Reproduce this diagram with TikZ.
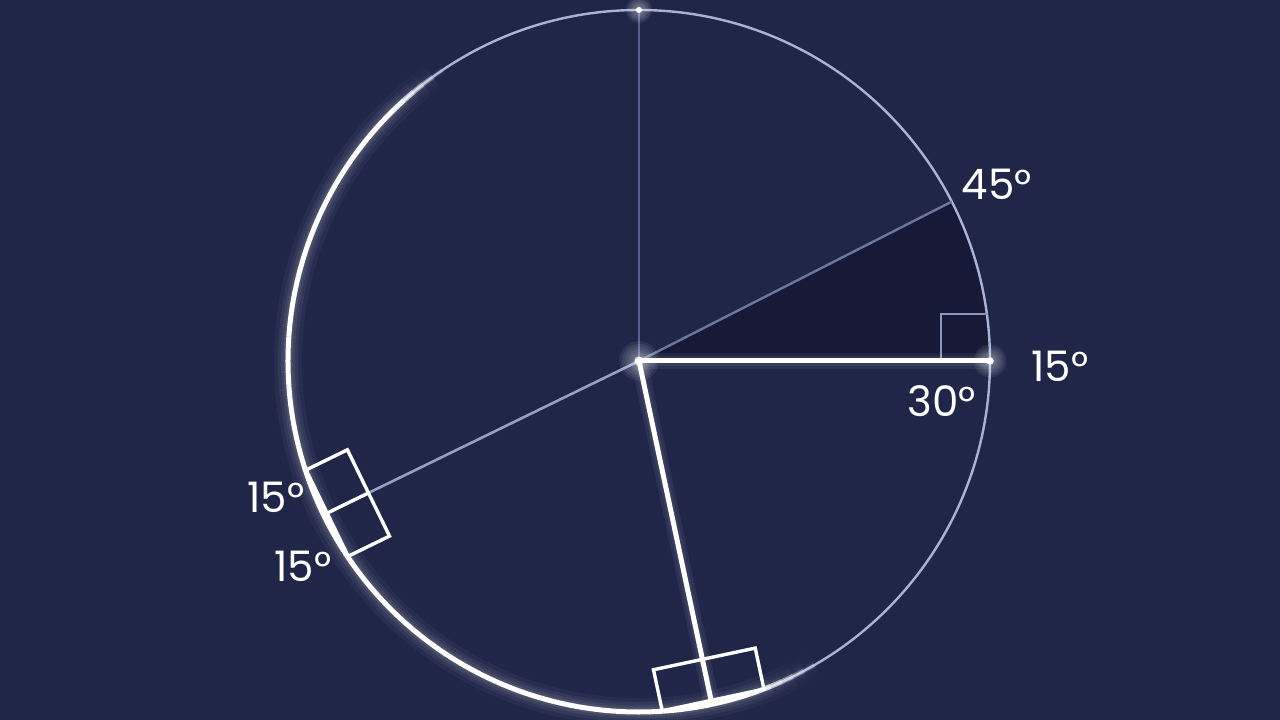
\documentclass[tikz,border=0pt]{standalone}
\usepackage{fontspec}
\setmainfont{Poppins}
\definecolor{bg}{HTML}{1F2648}
\definecolor{sector}{HTML}{161A37}
\definecolor{rim}{HTML}{A9B3D6}
\definecolor{vline}{HTML}{56628C}
\definecolor{aline}{HTML}{6B77A1}
\definecolor{lline}{HTML}{96A0C6}
\definecolor{rsq}{HTML}{8C97BD}
\tikzset{
  thinrim/.style={draw=rim, line width=2.4pt},
  brightline/.style={draw=white, line width=5pt},
  glowline/.style={draw=white, line width=#1, opacity=0.06},
  marksq/.style={draw=white, line width=3.4pt, line join=miter},
  deglabel/.style={text=white, font=\fontsize{42}{42}\selectfont, inner sep=0pt, anchor=center},
}
\begin{document}
\begin{tikzpicture}[x=1pt,y=1pt]
\useasboundingbox (-639,-359) rectangle (641,361);
\fill[bg] (-639,-359) rectangle (641,361);
\def\R{351}
\def\Rs{347}
\coordinate (C) at (0,0);
\coordinate (T) at (90:\R);
\coordinate (A) at (27:\R);
\coordinate (E) at (0:\R);
\coordinate (L) at (206:\R);
\coordinate (Ls) at (206:\Rs);
\coordinate (B) at (-78:\Rs);
% dark sector
\fill[sector] (C) -- (E) arc[start angle=0, end angle=27, radius=\R] -- cycle;
% thin circle
\draw[thinrim] (C) circle[radius=\R];
% bright arc with glow, faded ends
\foreach \a in {122,124,...,300}{
  \pgfmathsetmacro{\f}{min(1,max(0,min((\a+1-124)/10,(301-\a-1)/13)))}
  \pgfmathsetmacro{\b}{\a+2}
  \foreach \w/\o in {28pt/0.04,20pt/0.05,14pt/0.06,9pt/0.08}{
    \draw[draw=white, line width=\w, opacity=\o*\f] (\a:\R) arc[start angle=\a, end angle=\b, radius=\R];
  }
  \draw[draw=white, line width=5pt, opacity=\f] (\a:\R) arc[start angle=\a, end angle=\b, radius=\R];
}
% thin radii
\draw[vline, line width=2pt] (C) -- (T);
\draw[aline, line width=2.4pt] (C) -- (A);
\draw[lline, line width=2.6pt] (C) -- (Ls);
% right angle square at E (thin)
\draw[rsq, line width=2pt] ([xshift=-2pt]E) ++(0,47) -- ++(-47,0) -- ++(0,-47);
% glow for thick radii
\foreach \w in {16pt,10pt}{
  \draw[glowline=\w] (C) -- (E);
  \draw[glowline=\w] (C) -- (B);
}
\draw[brightline] (C) -- (E);
\draw[brightline] (C) -- (B);
% squares at lower left
\begin{scope}[rotate=206]
  \draw[marksq] (\Rs,0) -- (\Rs-46,0);
  \draw[marksq] (\Rs,0) -- (\Rs,48) -- (\Rs-46,48) -- (\Rs-46,0) -- (\Rs-46,-48) -- (\Rs,-48) -- cycle;
\end{scope}
% squares at bottom
\begin{scope}[rotate=-78]
  \draw[marksq] (\Rs,0) -- (\Rs,54) -- (\Rs-42,54) -- (\Rs-42,0) -- (\Rs-42,-50) -- (\Rs,-50) -- cycle;
\end{scope}
% dots
\foreach \p/\r in {C/6, T/4, E/5}{
  \foreach \k in {1,...,6}{
    \fill[white, opacity=0.07] (\p) circle[radius=\r*0.6+\k*\r*0.45];
  }
  \fill[white] (\p) circle[radius=\r*0.75];
}
% labels
\node[deglabel] (l45) at (358,177) {45°};
\node[deglabel] (l15r) at (421,-5) {15°};
\node[deglabel] (l30) at (303,-40) {30°};
\node[deglabel] (l15a) at (-363,-136) {15°};
\node[deglabel] (l15b) at (-336,-205) {15°};
\end{tikzpicture}
\end{document}
